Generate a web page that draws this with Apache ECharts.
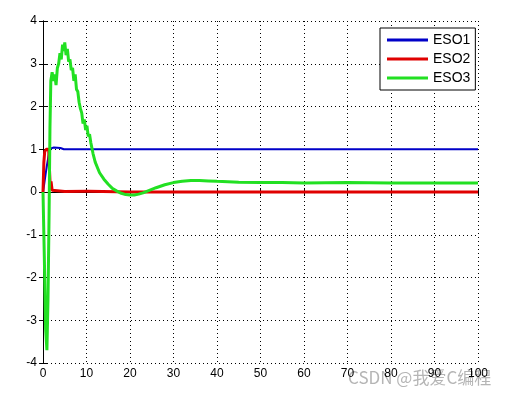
<!DOCTYPE html>
<html lang="en">
<head>
    <meta charset="UTF-8">
    <title>ESO</title>
    <script src="https://cdn.jsdelivr.net/npm/echarts@6/dist/echarts.min.js"></script>
    <style>
        html, body { margin: 0; padding: 0; background: #fff; }
        #main { width: 522px; height: 397px; }
    </style>
</head>
<body>
    <div id="main"></div>
    <script type="text/javascript">
        // 曲线数据 [t, value]
        var eso1 = [[0, 0], [0.3, 0.2], [0.6, 0.42], [0.9, 0.62], [1.2, 0.8], [1.5, 0.95], [1.8, 1.02],
            [2.5, 1.04], [4, 1.03], [4.8, 1.0], [100, 1.0]];
        var eso2 = [[0, 0], [0.2, 0.7], [0.4, 0.95], [0.8, 1.0], [1.3, 1.0], [1.5, 0.5], [1.7, 0.05],
            [1.85, 0.25], [2.1, 0.04], [2.5, 0.02], [5, 0.01], [10, 0.02], [10.3, 0.05], [10.6, 0.02],
            [20, 0.0], [100, 0.0]];
        var eso3 = [[0, 0], [0.3, -1.5], [0.6, -3.2], [0.9, -3.7], [1.15, -2.5], [1.4, -0.5], [1.6, 1.5],
            [1.8, 2.6], [2.1, 2.8], [2.4, 2.6], [2.7, 2.75], [3.0, 2.5], [3.3, 2.9], [3.6, 3.0],
            [3.9, 3.25], [4.2, 3.1], [4.5, 3.45], [4.8, 3.3], [5.0, 3.5], [5.3, 3.2], [5.6, 3.35],
            [5.9, 3.05], [6.2, 3.1], [6.5, 2.85], [6.8, 2.9], [7.1, 2.6], [7.4, 2.75], [7.7, 2.4],
            [8.0, 2.35], [8.3, 2.1], [8.6, 1.95], [8.9, 1.85], [9.2, 1.6], [9.5, 1.7], [9.8, 1.45],
            [10.1, 1.55], [10.4, 1.3], [10.7, 1.35], [11, 1.15], [11.5, 0.9], [12, 0.7], [13, 0.45],
            [14, 0.3], [15, 0.18], [16, 0.08], [17, 0.02], [18, -0.03], [19, -0.06], [20, -0.07],
            [21, -0.07], [22, -0.05], [23, -0.02], [24, 0.02], [26, 0.1], [28, 0.17], [30, 0.22],
            [32, 0.25], [34, 0.27], [36, 0.27], [38, 0.26], [40, 0.25], [45, 0.23], [50, 0.22],
            [55, 0.22], [60, 0.21], [70, 0.22], [80, 0.21], [90, 0.21], [100, 0.21]];
        var names = ['ESO1', 'ESO2', 'ESO3'];
        var colors = ['#0000c8', '#e00000', '#22e022'];

        var myChart = echarts.init(document.getElementById('main'));

        var labelFont = { color: '#000', fontSize: 12, fontFamily: 'Liberation Sans, Arial' };
        var boxAxis = {
            axisLine: { show: true, lineStyle: { color: '#000', width: 1 } },
            axisTick: { show: true, inside: true, length: 4, lineStyle: { color: '#000' } },
            splitLine: { show: false },
            axisLabel: { show: false }
        };

        option = {
            backgroundColor: '#fff',
            animation: false,
            color: colors,
            grid: { left: 43, top: 21, right: 44, bottom: 34 },
            legend: {
                data: names,
                orient: 'vertical',
                left: 380,
                top: 28,
                padding: [5, 5, 5, 7],
                itemGap: 5,
                itemWidth: 41,
                itemHeight: 3,
                itemTextGap: 5,
                icon: 'rect',
                backgroundColor: '#fff',
                borderColor: '#000',
                borderWidth: 1,
                borderRadius: 0,
                textStyle: { color: '#000', fontSize: 14, fontFamily: 'Liberation Sans, Arial' }
            },
            xAxis: [{
                type: 'value', min: 0, max: 100, interval: 10,
                axisLine: { lineStyle: { color: '#000' } },
                axisTick: { inside: true, length: 4, lineStyle: { color: '#000' } },
                axisLabel: Object.assign({ margin: 5 }, labelFont),
                splitLine: { show: true, lineStyle: { color: '#000', type: [1, 3], width: 1 } }
            }, Object.assign({ type: 'value', min: 0, max: 100, interval: 10, position: 'top' }, boxAxis)],
            yAxis: [{
                type: 'value', min: -4, max: 4, interval: 1,
                axisLine: { show: true, lineStyle: { color: '#000' } },
                axisTick: { show: true, inside: true, length: 4, lineStyle: { color: '#000' } },
                axisLabel: Object.assign({ margin: 6 }, labelFont),
                splitLine: { show: true, lineStyle: { color: '#000', type: [1, 3], width: 1 } }
            }, Object.assign({ type: 'value', min: -4, max: 4, interval: 1, position: 'right' }, boxAxis)],
            series: [
                { name: names[0], type: 'line', data: eso1, showSymbol: false, lineStyle: { width: 2 } },
                { name: names[1], type: 'line', data: eso2, showSymbol: false, lineStyle: { width: 3 } },
                { name: names[2], type: 'line', data: eso3, showSymbol: false, lineStyle: { width: 3 } }
            ],
            graphic: [{
                type: 'text',
                left: 348,
                top: 369,
                style: {
                    text: 'CSDN @我爱C编程',
                    fill: 'rgba(150,150,150,0.7)',
                    font: '17px "Noto Sans CJK SC", sans-serif'
                }
            }]
        };
        myChart.setOption(option);
    </script>
</body>
</html>
